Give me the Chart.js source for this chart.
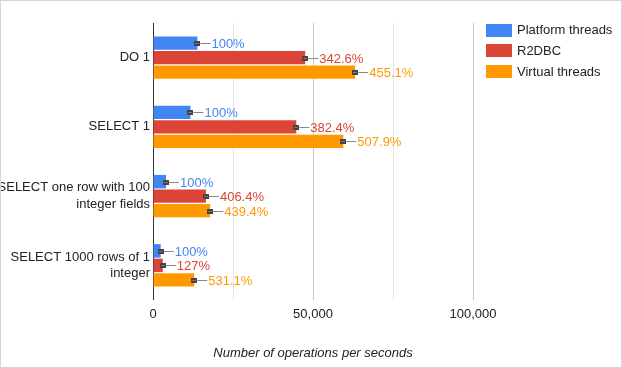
<!DOCTYPE html>
<html>
<head>
<meta charset="utf-8">
<script src="https://cdn.jsdelivr.net/npm/chart.js@4/dist/chart.umd.min.js"></script>
<style>
  html, body { margin: 0; padding: 0; background: #fff; }
  #wrap { position: relative; width: 622px; height: 368px; }
</style>
</head>
<body>
<div id="wrap"><canvas id="chart" width="622" height="368"></canvas></div>
<script>
const categories = [
  "DO 1",
  "SELECT 1",
  ["SELECT one row with 100", "integer fields"],
  ["SELECT 1000 rows of 1", "integer"],
];
const seriesNames = ["Platform threads", "R2DBC", "Virtual threads"];
const seriesColors = ["#4285f4", "#db4437", "#ff9900"];
const platformOps = [13880, 11710, 4070, 2400];
const r2dbcOps = [47560, 44780, 16540, 3050];
const virtualOps = [63190, 59480, 17880, 12900];
const platformPct = ["100%", "100%", "100%", "100%"];
const r2dbcPct = ["342.6%", "382.4%", "406.4%", "127%"];
const virtualPct = ["455.1%", "507.9%", "439.4%", "531.1%"];
const xTicks = [0, 25000, 50000, 75000, 100000];
const xTitle = "Number of operations per seconds";

const FONT = 'Arial, "Liberation Sans", sans-serif';
Chart.defaults.font.family = FONT;
Chart.defaults.font.size = 13;
Chart.defaults.color = "#222";

const values = [platformOps, r2dbcOps, virtualOps];
const pcts = [platformPct, r2dbcPct, virtualPct];

// annotations: error marker + stem + percentage label, like the google chart
const annotate = {
  id: "annotate",
  afterDatasetsDraw(chart) {
    const ctx = chart.ctx;
    ctx.save();
    chart.data.datasets.forEach((ds, di) => {
      const meta = chart.getDatasetMeta(di);
      meta.data.forEach((bar, i) => {
        const x = bar.x, y = Math.round(bar.y);
        ctx.strokeStyle = "#888";
        ctx.lineWidth = 1;
        ctx.beginPath();
        ctx.moveTo(x + 3, y + 0.5);
        ctx.lineTo(x + 13, y + 0.5);
        ctx.stroke();
        ctx.fillStyle = "#444";
        ctx.fillRect(Math.round(x) - 3, y - 2, 6, 5);
        ctx.fillStyle = "#777";
        ctx.fillRect(Math.round(x) - 2, y, 4, 1);
        ctx.font = `13px ${FONT}`;
        ctx.fillStyle = ds.backgroundColor;
        ctx.textAlign = "left";
        ctx.textBaseline = "middle";
        ctx.fillText(pcts[di][i], x + 14, y + 1);
      });
    });
    ctx.restore();
  },
  afterDraw(chart) {
    const ctx = chart.ctx;
    ctx.save();
    // legend
    ctx.font = `13px ${FONT}`;
    ctx.textAlign = "left";
    ctx.textBaseline = "middle";
    seriesNames.forEach((name, i) => {
      const cy = 29.5 + i * 20.8;
      ctx.fillStyle = seriesColors[i];
      ctx.fillRect(486, Math.round(cy - 6), 26, 13);
      ctx.fillStyle = "#222";
      ctx.fillText(name, 517, cy + 1);
    });
    // outer frame
    ctx.strokeStyle = "#d6d6d6";
    ctx.lineWidth = 1;
    ctx.strokeRect(0.5, 0.5, 621, 367);
    ctx.restore();
  },
};

new Chart(document.getElementById("chart"), {
  type: "bar",
  data: {
    labels: categories,
    datasets: seriesNames.map((name, i) => ({
      label: name,
      data: values[i],
      backgroundColor: seriesColors[i],
      borderWidth: 0,
      categoryPercentage: 0.628,
      barPercentage: 0.93,
    })),
  },
  options: {
    indexAxis: "y",
    responsive: false,
    animation: false,
    layout: { padding: { left: 0, right: 149, top: 23, bottom: 0 } },
    plugins: { legend: { display: false }, tooltip: { enabled: false } },
    scales: {
      x: {
        min: 0,
        max: 100000,
        afterBuildTicks: (s) => { s.ticks = xTicks.map(v => ({ value: v })); },
        afterFit: (s) => { s.height = 68; },
        ticks: {
          padding: 7,
          color: "#222",
          maxRotation: 0,
          callback: (v) => (v % 50000 === 0 ? v.toLocaleString("en-US") : ""),
        },
        grid: {
          drawTicks: false,
          color: (c) => c.tick.value === 0 ? "#333" : (c.tick.value % 50000 === 0 ? "#cccccc" : "#e6e6e6"),
        },
        border: { display: false },
        title: {
          display: true,
          text: xTitle,
          font: { style: "italic", size: 13 },
          color: "#222",
          padding: { top: 0, bottom: 7 },
        },
      },
      y: {
        afterFit: (s) => { s.width = 153; },
        ticks: { padding: 3, color: "#222", font: { size: 13, lineHeight: 1.28 } },
        grid: { display: false, drawTicks: false, tickLength: 0 },
        border: { display: false },
      },
    },
  },
  plugins: [annotate],
});
</script>
</body>
</html>
